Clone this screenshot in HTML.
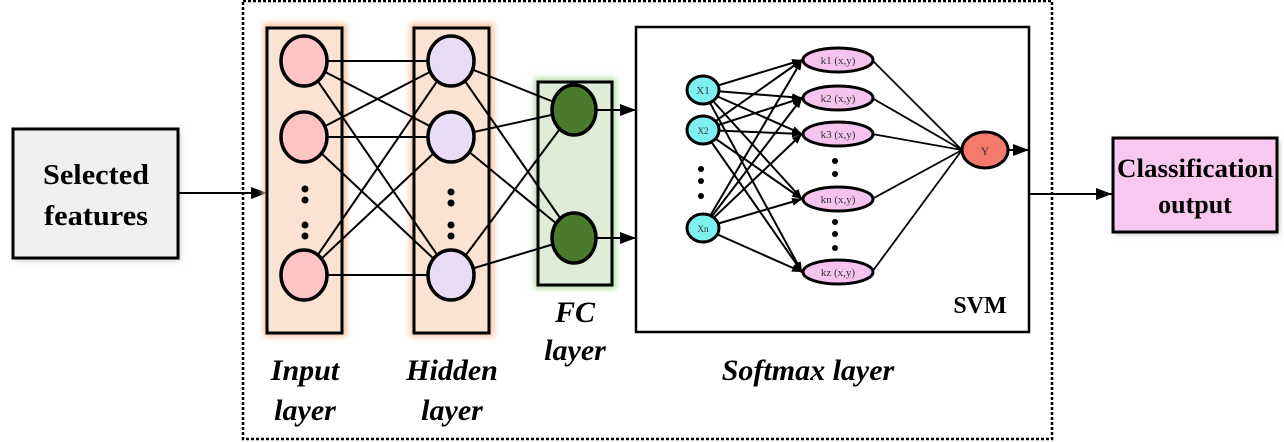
<!DOCTYPE html>
<html><head><meta charset="utf-8"><style>
html,body{margin:0;padding:0;background:#fff;}
svg{display:block;}
text{font-family:"Liberation Serif",serif;}
</style></head><body>
<svg width="1284" height="442" viewBox="0 0 1284 442" xmlns="http://www.w3.org/2000/svg">
<defs>
<marker id="a" markerWidth="10" markerHeight="8" refX="10" refY="4" orient="auto" markerUnits="userSpaceOnUse"><path d="M0,0 L10,4 L0,8 z" fill="#000"/></marker>
<marker id="b" markerWidth="16" markerHeight="12" refX="16" refY="6" orient="auto" markerUnits="userSpaceOnUse"><path d="M0,0 L16,6 L0,12 z" fill="#000"/></marker>
<filter id="g" x="-20%" y="-20%" width="140%" height="140%"><feGaussianBlur stdDeviation="3"/></filter>
</defs>
<!-- dashed outer box -->
<rect x="243" y="1" width="809" height="438" fill="none" stroke="#000" stroke-width="2.5" stroke-dasharray="3,2"/>
<!-- selected features -->
<rect x="15" y="131" width="165" height="129" fill="#bbb" filter="url(#g)"/>
<rect x="13" y="129" width="165" height="129" fill="#f0f0f0" stroke="#000" stroke-width="3"/>
<text x="96" y="184" font-size="28" font-weight="bold" text-anchor="middle" textLength="106" lengthAdjust="spacingAndGlyphs">Selected</text>
<text x="96" y="225" font-size="28" font-weight="bold" text-anchor="middle" textLength="104" lengthAdjust="spacingAndGlyphs">features</text>
<line x1="178" y1="193" x2="267" y2="193" stroke="#000" stroke-width="2" marker-end="url(#b)"/>
<!-- classification -->
<rect x="1115" y="140" width="164" height="94" fill="#bbb" filter="url(#g)"/>
<rect x="1113" y="138" width="164" height="94" fill="#f9c8f0" stroke="#000" stroke-width="3"/>
<text x="1195" y="177" font-size="26" font-weight="bold" text-anchor="middle" textLength="156" lengthAdjust="spacingAndGlyphs">Classification</text>
<text x="1195" y="213" font-size="26" font-weight="bold" text-anchor="middle">output</text>
<line x1="1029" y1="194" x2="1112" y2="194" stroke="#000" stroke-width="2" marker-end="url(#b)"/>
<!-- input & hidden boxes -->
<rect x="263" y="23" width="84" height="314" fill="#f6c7a8" filter="url(#g)"/>
<rect x="267" y="28" width="75" height="305" fill="#fae3d2" stroke="#000" stroke-width="3"/>
<rect x="410" y="23" width="84" height="314" fill="#f6c7a8" filter="url(#g)"/>
<rect x="414" y="28" width="75" height="305" fill="#fae3d2" stroke="#000" stroke-width="3"/>
<rect x="534" y="78" width="82" height="211" fill="#b8dca8" filter="url(#g)"/>
<rect x="538" y="82" width="74" height="203" fill="#deeed6" stroke="#000" stroke-width="3"/>
<!-- connections -->
<g stroke="#000" stroke-width="2">
<line x1="304" y1="61" x2="451" y2="61"/><line x1="304" y1="61" x2="451" y2="137"/><line x1="304" y1="61" x2="451" y2="275"/>
<line x1="304" y1="137" x2="451" y2="61"/><line x1="304" y1="137" x2="451" y2="137"/><line x1="304" y1="137" x2="451" y2="275"/>
<line x1="304" y1="275" x2="451" y2="61"/><line x1="304" y1="275" x2="451" y2="137"/><line x1="304" y1="275" x2="451" y2="275"/>
<line x1="451" y1="61" x2="574" y2="110"/><line x1="451" y1="61" x2="574" y2="238"/>
<line x1="451" y1="137" x2="574" y2="110"/><line x1="451" y1="137" x2="574" y2="238"/>
<line x1="451" y1="275" x2="574" y2="110"/><line x1="451" y1="275" x2="574" y2="238"/>
</g>
<g stroke="#000" stroke-width="3.5">
<ellipse cx="304" cy="61" rx="23" ry="25" fill="#fec4c4"/>
<ellipse cx="304" cy="137" rx="23" ry="25" fill="#fec4c4"/>
<ellipse cx="304" cy="275" rx="23" ry="25" fill="#fec4c4"/>
<ellipse cx="451" cy="61" rx="23" ry="25" fill="#e9dcf6"/>
<ellipse cx="451" cy="137" rx="23" ry="25" fill="#e9dcf6"/>
<ellipse cx="451" cy="275" rx="23" ry="25" fill="#e9dcf6"/>
<ellipse cx="574" cy="110" rx="22" ry="25" fill="#4a7a2c"/>
<ellipse cx="574" cy="238" rx="22" ry="25" fill="#4a7a2c"/>
</g>
<g fill="#000">
<circle cx="305" cy="189" r="3.5"/><circle cx="305" cy="200" r="3.5"/><circle cx="305" cy="225" r="3.5"/><circle cx="305" cy="236" r="3.5"/>
<circle cx="451" cy="192" r="3.5"/><circle cx="451" cy="203" r="3.5"/><circle cx="451" cy="225" r="3.5"/><circle cx="451" cy="236" r="3.5"/>
</g>
<line x1="596" y1="110" x2="636" y2="110" stroke="#000" stroke-width="2" marker-end="url(#b)"/>
<line x1="596" y1="238" x2="636" y2="238" stroke="#000" stroke-width="2" marker-end="url(#b)"/>
<!-- SVM box -->
<rect x="636" y="27" width="393" height="305" fill="#fff" stroke="#000" stroke-width="2.5"/>
<g stroke="#000" stroke-width="2" marker-end="url(#a)">
<line x1="703" y1="90" x2="802" y2="60"/><line x1="703" y1="90" x2="802" y2="98"/><line x1="703" y1="90" x2="802" y2="134"/><line x1="703" y1="90" x2="802" y2="199"/><line x1="703" y1="90" x2="802" y2="272"/>
<line x1="703" y1="130" x2="802" y2="60"/><line x1="703" y1="130" x2="802" y2="98"/><line x1="703" y1="130" x2="802" y2="134"/><line x1="703" y1="130" x2="802" y2="199"/><line x1="703" y1="130" x2="802" y2="272"/>
<line x1="703" y1="228" x2="802" y2="60"/><line x1="703" y1="228" x2="802" y2="98"/><line x1="703" y1="228" x2="802" y2="134"/><line x1="703" y1="228" x2="802" y2="199"/><line x1="703" y1="228" x2="802" y2="272"/>
</g>
<g stroke="#000" stroke-width="1.8">
<line x1="872" y1="60" x2="962" y2="150"/><line x1="872" y1="98" x2="962" y2="150"/><line x1="872" y1="134" x2="962" y2="150"/><line x1="872" y1="199" x2="962" y2="150"/><line x1="872" y1="272" x2="962" y2="150"/>
</g>
<line x1="1007" y1="150" x2="1029" y2="150" stroke="#000" stroke-width="2" marker-end="url(#b)"/>
<g stroke="#000" stroke-width="3">
<ellipse cx="703" cy="90" rx="16" ry="14" fill="#7ff0f0"/>
<ellipse cx="703" cy="130" rx="16" ry="14" fill="#7ff0f0"/>
<ellipse cx="703" cy="228" rx="16" ry="14" fill="#7ff0f0"/>
<ellipse cx="838" cy="60" rx="35" ry="12" fill="#f5c3ee"/>
<ellipse cx="838" cy="98" rx="35" ry="12" fill="#f5c3ee"/>
<ellipse cx="838" cy="134" rx="35" ry="12" fill="#f5c3ee"/>
<ellipse cx="838" cy="199" rx="35" ry="12" fill="#f5c3ee"/>
<ellipse cx="838" cy="272" rx="35" ry="12" fill="#f5c3ee"/>
<ellipse cx="985" cy="150" rx="23" ry="18" fill="#f57a6e"/>
</g>
<g font-size="11" text-anchor="middle" fill="#333">
<text x="703" y="94">X1</text><text x="703" y="134" font-size="9">X2</text><text x="703" y="232" font-size="9">Xn</text>
<text x="838" y="64">k1 (x,y)</text><text x="838" y="102">k2 (x,y)</text><text x="838" y="138">k3 (x,y)</text><text x="838" y="203">kn (x,y)</text><text x="838" y="276">kz (x,y)</text>
<text x="985" y="155" font-size="12">Y</text>
</g>
<g fill="#000">
<circle cx="701" cy="169" r="3"/><circle cx="701" cy="181" r="3"/><circle cx="701" cy="196" r="3"/>
<circle cx="835" cy="161" r="3"/><circle cx="835" cy="174" r="3"/><circle cx="835" cy="222" r="3"/><circle cx="835" cy="234" r="3"/><circle cx="835" cy="248" r="3"/>
</g>
<text x="980" y="313" font-size="24" font-weight="bold" text-anchor="middle">SVM</text>
<!-- labels -->
<g font-size="30" font-weight="bold" font-style="italic" text-anchor="middle">
<text x="305" y="380">Input</text><text x="305" y="420">layer</text>
<text x="452" y="380">Hidden</text><text x="452" y="420">layer</text>
<text x="575" y="322">FC</text><text x="575" y="360">layer</text>
<text x="808" y="380">Softmax layer</text>
</g>
</svg>
</body></html>
